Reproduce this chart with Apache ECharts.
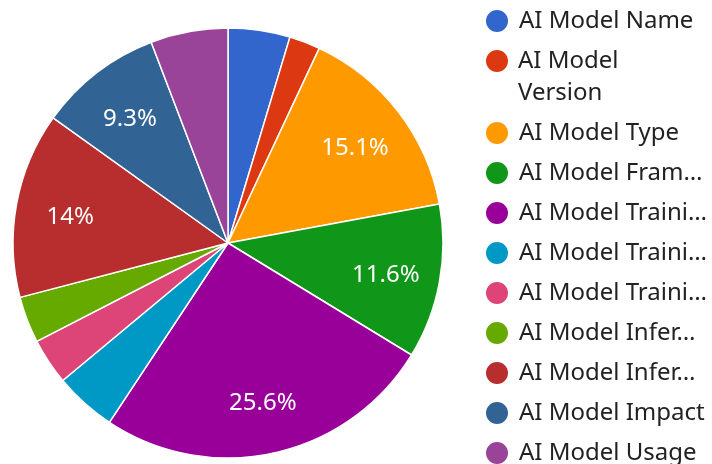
<!DOCTYPE html>
<html>
<head>
<meta charset="utf-8">
<script src="https://cdn.jsdelivr.net/npm/echarts@6/dist/echarts.min.js"></script>
<style>
html,body{margin:0;padding:0;background:#fff;}
#chart{width:712px;height:464px;}
</style>
</head>
<body>
<div id="chart"></div>
<script>
const categories = ['AI Model Name','AI Model Version','AI Model Type','AI Model Framework','AI Model Training Data','AI Model Training Time','AI Model Training Cost','AI Model Inference Time','AI Model Inference Cost','AI Model Impact','AI Model Usage'];
const legendLabels = ['AI Model Name','AI Model\nVersion','AI Model Type','AI Model Fram\u2026','AI Model Traini\u2026','AI Model Traini\u2026','AI Model Traini\u2026','AI Model Infer\u2026','AI Model Infer\u2026','AI Model Impact','AI Model Usage'];
const values = [4, 2, 13, 10, 22, 4, 3, 3, 12, 8, 5];
const colors = ['#3366cc','#dc3912','#ff9900','#109618','#990099','#0099c6','#dd4477','#66aa00','#b82e2e','#316395','#994499'];

const total = values.reduce((a,b)=>a+b,0);
const pieData = categories.map((n,i)=>({name:n, value:values[i]}));
const labelMap = {};
categories.forEach((n,i)=>{labelMap[n]=legendLabels[i];});

const chart = echarts.init(document.getElementById('chart'));
const font = '"Noto Sans", "Open Sans", sans-serif';
const legendBase = {
  orient: 'vertical',
  left: 484,
  padding: 0,
  itemWidth: 24,
  itemHeight: 24,
  icon: 'circle',
  height: 440,
  selectedMode: false,
  formatter: n => labelMap[n],
  textStyle: {fontFamily: font, fontSize: 24, lineHeight: 24, color: '#222222', padding:[0,0,0,5]}
};
chart.setOption({
  color: colors,
  animation: false,
  legend: [
    Object.assign({}, legendBase, {top: 8, data: [categories[0]]}),
    Object.assign({}, legendBase, {top: 48, data: [categories[1]], formatter: () => ''}),
    Object.assign({}, legendBase, {top: 45, data: [categories[1]], icon: 'none',
      textStyle: {fontFamily: font, fontSize: 24, lineHeight: 32, color: '#222222', padding:[0,0,0,5]}}),
    Object.assign({}, legendBase, {top: 120, itemGap: 14, data: categories.slice(2)})
  ],
  series: [
    {
      type: 'pie',
      center: [228, 243],
      radius: [0, 215],
      startAngle: 90,
      clockwise: true,
      data: pieData,
      label: {show: false},
      labelLine: {show: false},
      itemStyle: {borderColor: '#ffffff', borderWidth: 1.5},
      emphasis: {disabled: true}
    },
    {
      type: 'pie',
      center: [228, 246],
      radius: [100, 215],
      startAngle: 90,
      clockwise: true,
      silent: true,
      data: pieData,
      itemStyle: {color: 'rgba(0,0,0,0)', borderWidth: 0},
      label: {
        show: true,
        position: 'inside',
        fontFamily: font,
        fontSize: 24,
        color: '#ffffff',
        formatter: p => {
          const pct = p.value / total * 100;
          if (pct < 7) return '';
          return parseFloat(pct.toFixed(1)) + '%';
        }
      },
      labelLine: {show: false},
      emphasis: {disabled: true}
    }
  ]
});
</script>
</body>
</html>
